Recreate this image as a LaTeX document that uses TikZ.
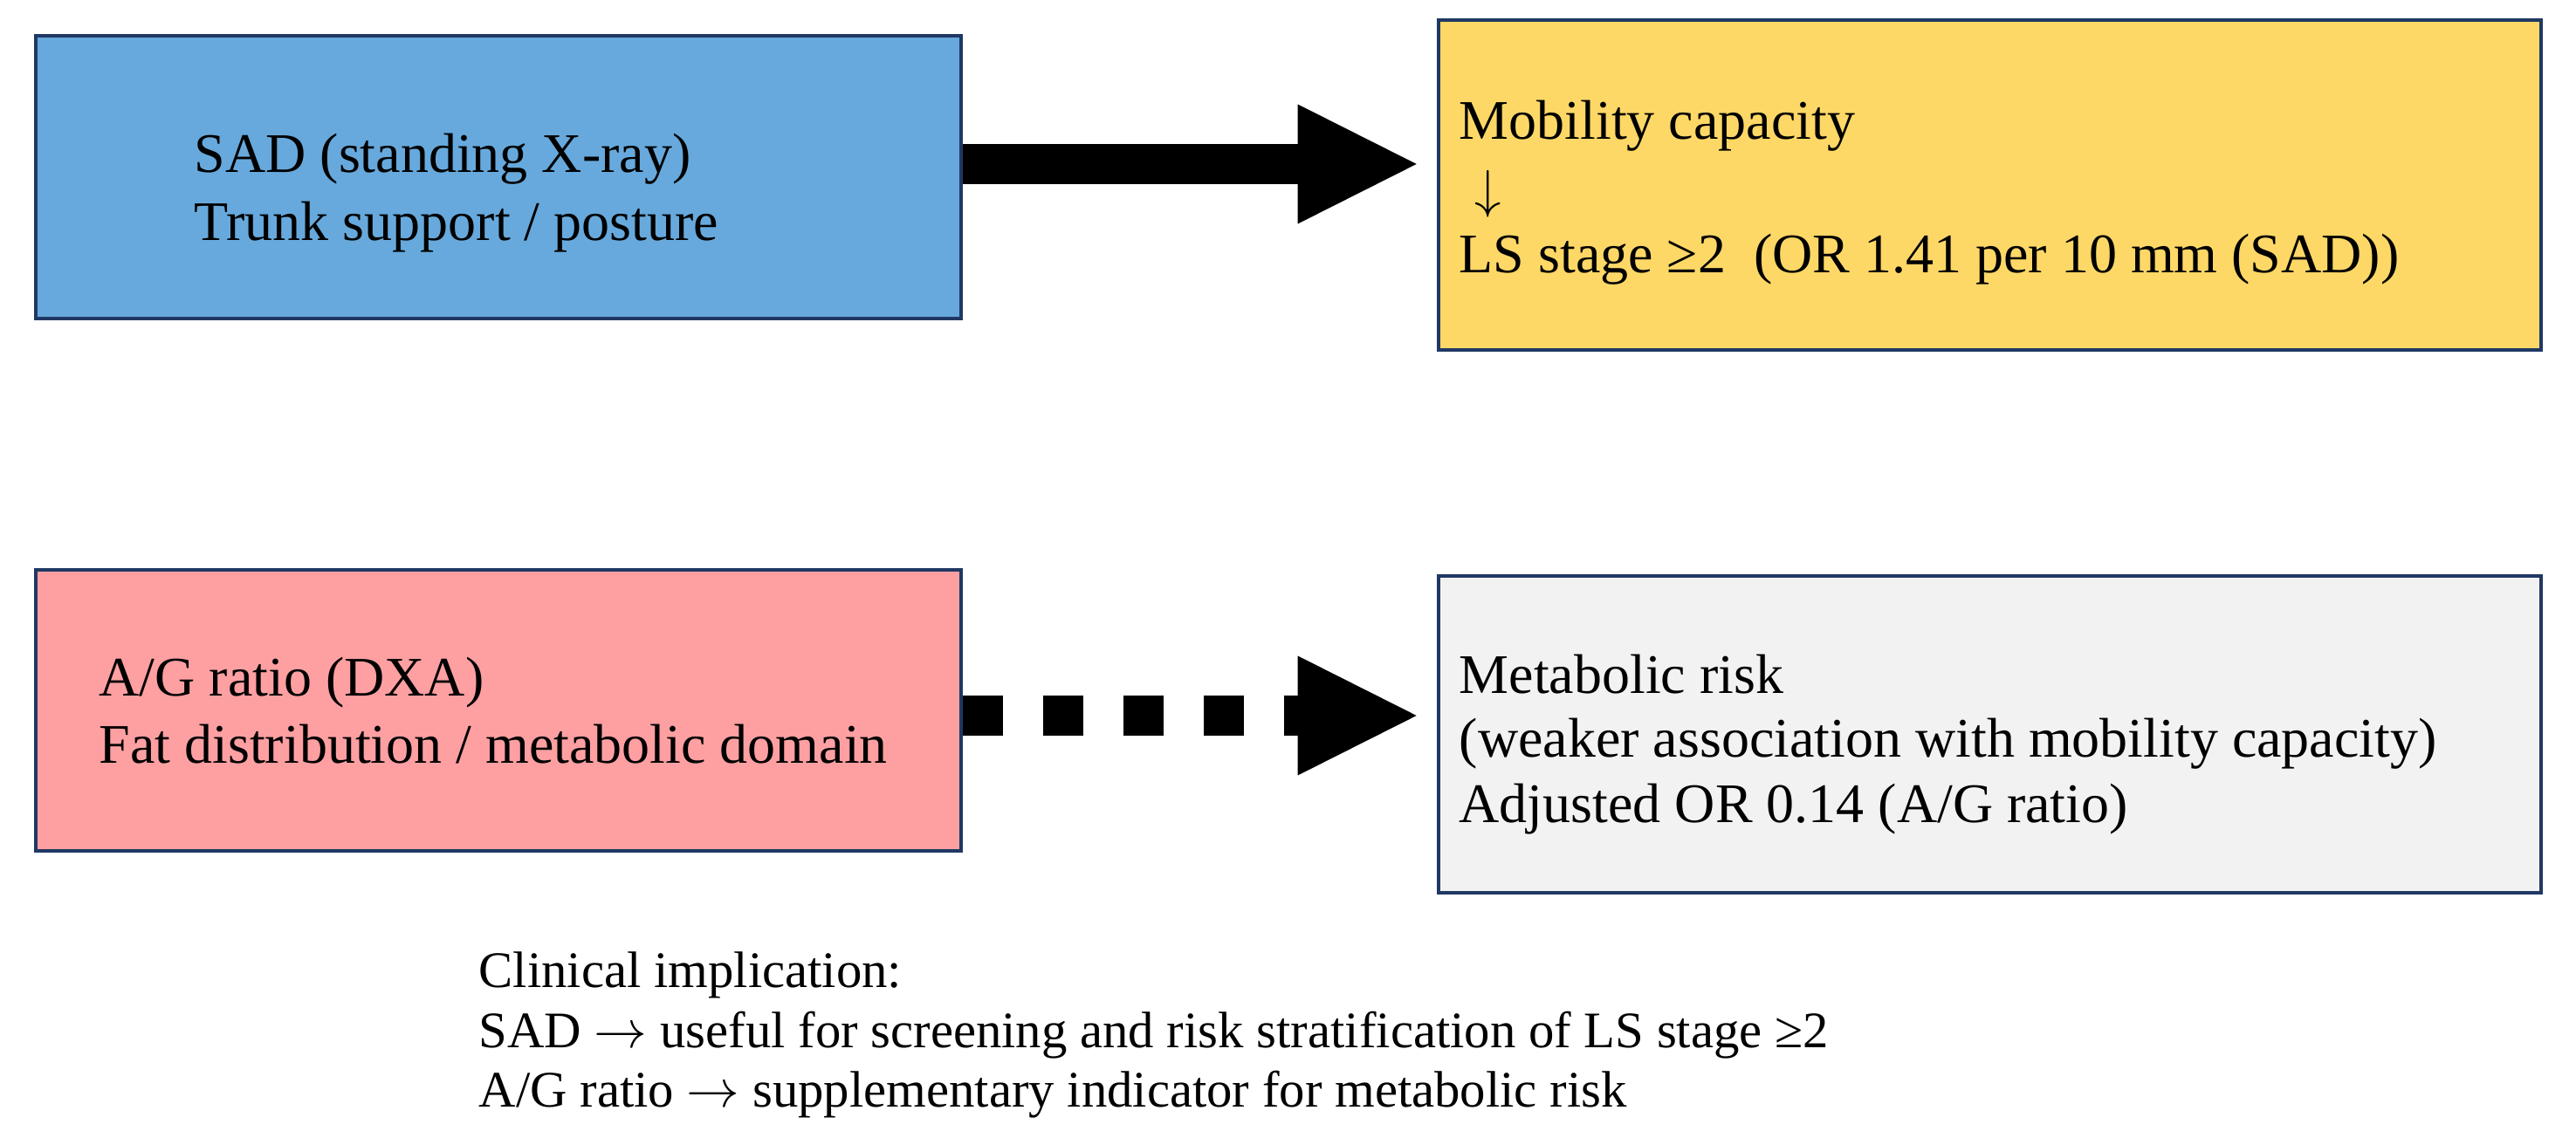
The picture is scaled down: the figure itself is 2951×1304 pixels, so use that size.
\documentclass[tikz,border=0pt]{standalone}
\usepackage{fontspec}
\setmainfont{Liberation Serif}
\usetikzlibrary{arrows.meta}
\definecolor{sadblue}{RGB}{103,169,220}
\definecolor{lsyellow}{RGB}{254,216,102}
\definecolor{agpink}{RGB}{254,160,162}
\definecolor{riskgray}{RGB}{242,242,242}
\definecolor{edgenavy}{RGB}{32,56,100}

\begin{document}
\begin{tikzpicture}[x=0.01cm, y=-0.01cm,
  box/.style={draw=edgenavy, line width=1.1pt, inner sep=0pt},
  txt/.style={anchor=base west, inner sep=0pt, font=\fontsize{18.2}{22}\selectfont},
  note/.style={anchor=base west, inner sep=0pt, font=\fontsize{16.7}{20}\selectfont},
  fatarrow/.style={line width=0.46cm, shorten >=0.23cm,
    -{Triangle[length=1.36cm, width=1.37cm, line width=0pt]}}]
  % Canvas in pixel units of the source (y grows downwards)
  \useasboundingbox (0,0) rectangle (2951,1304);

  % Boxes
  \node[box, fill=sadblue, minimum width=10.6cm, minimum height=3.24cm] (sad) at (571,203) {};
  \node[box, fill=lsyellow, minimum width=12.63cm, minimum height=3.78cm] (mob) at (2279.5,212) {};
  \node[box, fill=agpink, minimum width=10.6cm, minimum height=3.21cm] (ag) at (571,814) {};
  \node[box, fill=riskgray, minimum width=12.63cm, minimum height=3.63cm] (risk) at (2279.5,841.5) {};

  % Box texts
  \node[txt] (sad1) at (222,198) {SAD (standing X-ray)};
  \node[txt] (sad2) at (222,276) {Trunk support / posture};
  \node[txt] (mob1) at (1671,160) {Mobility capacity};
  \node[txt] (mob2) at (1689,238) {$\downarrow$};
  \node[txt] (mob3) at (1671,313) {LS stage ≥2~~(OR 1.41 per 10 mm (SAD))};
  \node[txt] (ag1) at (113,798) {A/G ratio (DXA)};
  \node[txt] (ag2) at (113,875) {Fat distribution / metabolic domain};
  \node[txt] (risk1) at (1671,795) {Metabolic risk};
  \node[txt] (risk2) at (1671,868) {(weaker association with mobility capacity)};
  \node[txt] (risk3) at (1671,943) {Adjusted OR 0.14 (A/G ratio)};

  % Arrows (solid = strong, dashed = weak)
  \draw[fatarrow] ([yshift=1.5mm]sad.east) -- ([yshift=1.5mm]sad.east -| mob.west);
  \draw[fatarrow, dash pattern=on 0.46cm off 0.46cm]
    ([yshift=-0.6mm]ag.east) -- ([yshift=-0.6mm]ag.east -| risk.west);

  % Note below
  \node[note] (imp1) at (548,1132) {Clinical implication:};
  \node[note] (imp2) at (548,1200) {SAD $\rightarrow$ useful for screening and risk stratification of LS stage ≥2};
  \node[note] (imp3) at (548,1268) {A/G ratio $\rightarrow$ supplementary indicator for metabolic risk};
\end{tikzpicture}
\end{document}
